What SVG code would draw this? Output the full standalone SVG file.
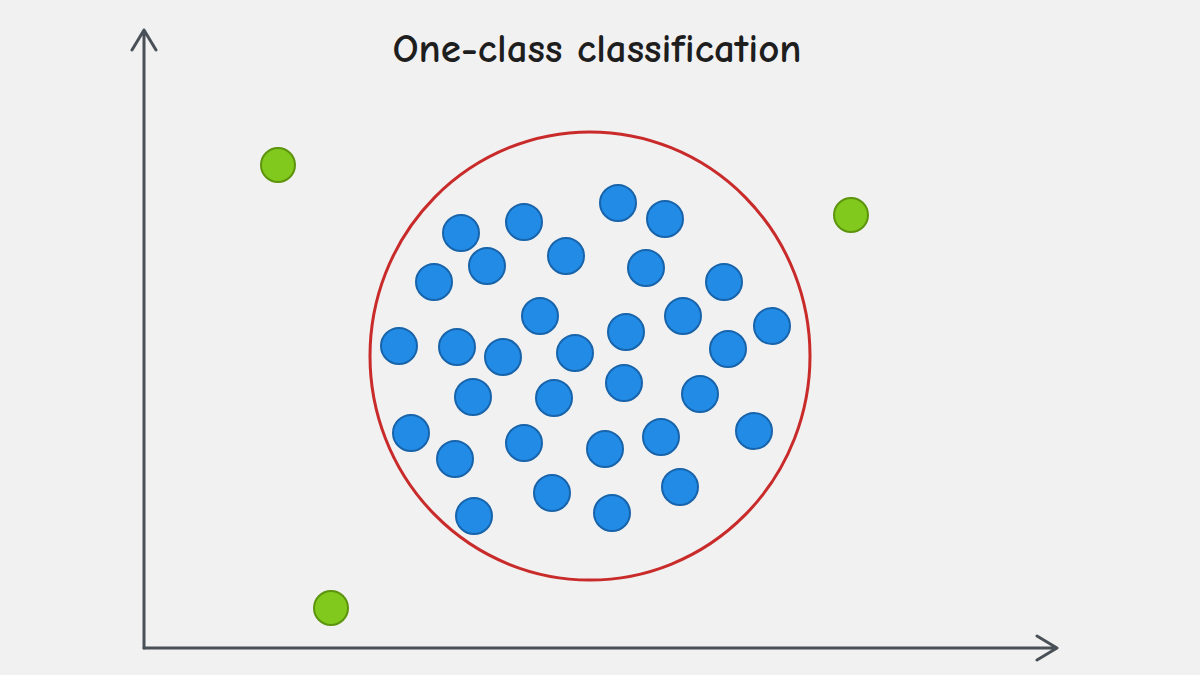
<svg xmlns="http://www.w3.org/2000/svg" width="1200" height="675" viewBox="0 0 1200 675">
<style>
.b{fill:#228be6;stroke:#1864ab;stroke-width:2}
.g{fill:#82c91e;stroke:#5c940d;stroke-width:2}
.ax{fill:none;stroke:#495057;stroke-width:3;stroke-linecap:round;stroke-linejoin:round}
</style>
<rect width="1200" height="675" fill="#f1f1f1"/>
<text x="597" y="62" text-anchor="middle" font-family="'Comic Neue','Liberation Sans',sans-serif" font-size="41" font-weight="bold" fill="#1e1e1e">One-class classification</text>
<g id="connectors">
<path class="ax" d="M144 648 V30 M132 50 L144 30 L156 50"/>
<path class="ax" d="M144 648 H1057 M1037 636 L1057 648 L1037 660"/>
</g>
<g id="boundary"><ellipse cx="590" cy="356" rx="220" ry="224" fill="none" stroke="#c92a2a" stroke-width="3"/></g>
<g id="inliers">
<circle class="b" cx="618" cy="203" r="18"/><circle class="b" cx="665" cy="219" r="18"/>
<circle class="b" cx="461" cy="233" r="18"/><circle class="b" cx="524" cy="222" r="18"/>
<circle class="b" cx="566" cy="256" r="18"/><circle class="b" cx="487" cy="266" r="18"/>
<circle class="b" cx="646" cy="268" r="18"/><circle class="b" cx="434" cy="282" r="18"/>
<circle class="b" cx="724" cy="282" r="18"/><circle class="b" cx="540" cy="316" r="18"/>
<circle class="b" cx="683" cy="316" r="18"/><circle class="b" cx="772" cy="326" r="18"/>
<circle class="b" cx="626" cy="332" r="18"/><circle class="b" cx="399" cy="346" r="18"/>
<circle class="b" cx="457" cy="347" r="18"/><circle class="b" cx="503" cy="357" r="18"/>
<circle class="b" cx="575" cy="353" r="18"/><circle class="b" cx="728" cy="349" r="18"/>
<circle class="b" cx="624" cy="383" r="18"/><circle class="b" cx="473" cy="397" r="18"/>
<circle class="b" cx="554" cy="398" r="18"/><circle class="b" cx="700" cy="394" r="18"/>
<circle class="b" cx="411" cy="433" r="18"/><circle class="b" cx="524" cy="443" r="18"/>
<circle class="b" cx="605" cy="449" r="18"/><circle class="b" cx="661" cy="437" r="18"/>
<circle class="b" cx="754" cy="431" r="18"/><circle class="b" cx="455" cy="459" r="18"/>
<circle class="b" cx="552" cy="493" r="18"/><circle class="b" cx="680" cy="487" r="18"/>
<circle class="b" cx="474" cy="516" r="18"/><circle class="b" cx="612" cy="513" r="18"/>
</g>
<g id="outliers">
<circle class="g" cx="278" cy="165" r="17"/><circle class="g" cx="851" cy="215" r="17"/><circle class="g" cx="331" cy="608" r="17"/>
</g>
</svg>
